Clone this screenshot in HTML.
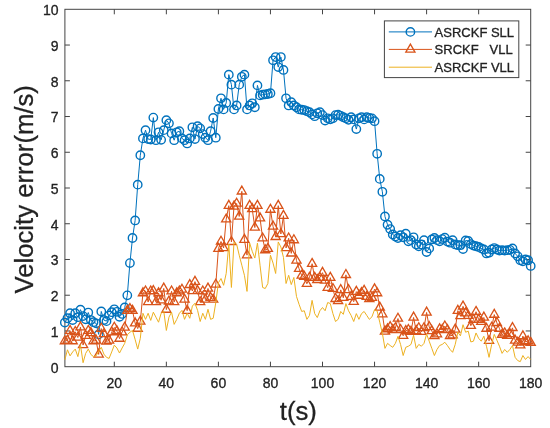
<!DOCTYPE html>
<html lang="en"><head><meta charset="utf-8"><title>Velocity error</title>
<style>html,body{margin:0;padding:0;background:#fff;}svg{display:block;}text{font-family:"Liberation Sans",Arial,Helvetica,sans-serif;fill:#222;stroke:#222;stroke-width:0.3px;}</style></head><body>
<svg width="550" height="428" viewBox="0 0 550 428">
<rect x="0" y="0" width="550" height="428" fill="#ffffff"/>
<g fill="none" stroke="#444" stroke-width="1.0">
<rect x="64.9" y="9.3" width="465.8" height="357.4"/>
<path d="M114.3 366.7v-5.0M114.3 9.3v5.0M166.35 366.7v-5.0M166.35 9.3v5.0M218.4 366.7v-5.0M218.4 9.3v5.0M270.45 366.7v-5.0M270.45 9.3v5.0M322.5 366.7v-5.0M322.5 9.3v5.0M374.55 366.7v-5.0M374.55 9.3v5.0M426.6 366.7v-5.0M426.6 9.3v5.0M478.65 366.7v-5.0M478.65 9.3v5.0M64.9 330.96h5.0M530.7 330.96h-5.0M64.9 295.22h5.0M530.7 295.22h-5.0M64.9 259.48h5.0M530.7 259.48h-5.0M64.9 223.74h5.0M530.7 223.74h-5.0M64.9 188h5.0M530.7 188h-5.0M64.9 152.26h5.0M530.7 152.26h-5.0M64.9 116.52h5.0M530.7 116.52h-5.0M64.9 80.78h5.0M530.7 80.78h-5.0M64.9 45.04h5.0M530.7 45.04h-5.0"/>
</g>
<g font-size="14" text-anchor="middle">
<text x="114.3" y="388.3">20</text>
<text x="166.35" y="388.3">40</text>
<text x="218.4" y="388.3">60</text>
<text x="270.45" y="388.3">80</text>
<text x="322.5" y="388.3">100</text>
<text x="374.55" y="388.3">120</text>
<text x="426.6" y="388.3">140</text>
<text x="478.65" y="388.3">160</text>
<text x="530.7" y="388.3">180</text>
</g>
<g font-size="14" text-anchor="end">
<text x="58.5" y="372.5">0</text>
<text x="58.5" y="336.76">1</text>
<text x="58.5" y="301.02">2</text>
<text x="58.5" y="265.28">3</text>
<text x="58.5" y="229.54">4</text>
<text x="58.5" y="193.8">5</text>
<text x="58.5" y="158.06">6</text>
<text x="58.5" y="122.32">7</text>
<text x="58.5" y="86.58">8</text>
<text x="58.5" y="50.84">9</text>
<text x="58.5" y="15.1">10</text>
</g>
<text x="298.3" y="419.5" font-size="25.7" text-anchor="middle">t(s)</text>
<text transform="translate(33 189.3) rotate(-90)" font-size="25.7" text-anchor="middle">Velocity error(m/s)</text>
<g fill="none" stroke-linejoin="round">
<polyline points="64.85,322.57 67.45,318.27 70.05,313.25 72.66,320.06 75.26,313.25 77.86,317.2 80.46,309.67 83.07,316.12 85.67,319.35 88.27,312.54 90.88,320.06 93.48,322.21 96.08,323.29 98.68,334.39 101.28,311.46 103.89,320.06 106.49,321.14 109.09,315.4 111.69,312.18 114.3,309.31 116.9,311.82 119.5,316.84 122.1,313.97 124.71,307.52 127.31,295.34 129.91,263.09 132.51,238.01 135.12,220.46 137.72,184.63 140.32,155.24 142.93,138.4 145.53,130.16 148.13,139.12 150.73,139.48 153.33,117.62 155.94,140.2 158.54,132.31 161.14,139.84 163.75,130.16 166.35,120.13 168.95,123.36 171.55,133.39 174.16,140.2 176.76,132.31 179.36,131.24 181.96,138.4 184.56,140.2 187.17,143.42 189.77,138.4 192.37,127.3 194.97,139.12 197.58,126.22 200.18,128.37 202.78,134.11 205.38,137.69 207.99,140.2 210.59,131.24 213.19,117.98 215.79,137.69 218.4,109.02 221,98.28 223.6,109.38 226.2,102.93 228.81,74.63 231.41,84.66 234.01,109.38 236.62,105.44 239.22,84.66 241.82,76.78 244.42,74.63 247.03,109.38 249.63,105.44 252.23,103.29 254.83,107.23 257.44,85.38 260.04,95.41 262.64,94.69 265.24,94.33 267.85,93.98 270.45,93.26 273.05,60.3 275.65,57.07 278.25,67.1 280.86,57.07 283.46,69.97 286.06,98.28 288.66,105.44 291.27,102.22 293.87,105.44 296.47,107.23 299.07,109.38 301.68,109.74 304.28,110.1 306.88,111.17 309.49,112.25 312.09,114.4 314.69,116.19 317.29,113.32 319.89,112.25 322.5,115.12 325.1,120.49 327.7,118.34 330.3,119.41 332.91,118.34 335.51,115.12 338.11,114.76 340.72,115.83 343.32,117.26 345.92,118.34 348.52,119.77 351.12,117.26 353.73,119.41 356.33,129.09 358.93,118.34 361.53,117.26 364.14,119.41 366.74,117.26 369.34,117.98 371.95,118.34 374.55,121.21 377.15,153.81 379.75,178.89 382.36,191.79 384.96,216.51 387.56,224.75 390.16,229.05 392.76,234.43 395.37,236.58 397.97,238.01 400.57,235.15 403.17,237.3 405.78,233.71 408.38,241.24 410.98,240.16 413.59,237.3 416.19,244.46 418.79,246.25 421.39,244.46 424,240.16 426.6,251.99 429.2,248.4 431.8,239.45 434.4,238.01 437.01,240.16 439.61,241.24 442.21,239.09 444.82,237.65 447.42,241.59 450.02,242.67 452.62,240.16 455.23,244.46 457.83,245.18 460.43,245.18 463.03,249.12 465.63,240.52 468.24,240.88 470.84,244.1 473.44,245.54 476.04,246.25 478.65,246.97 481.25,248.4 483.85,249.48 486.46,253.42 489.06,252.7 491.66,249.48 494.26,248.04 496.87,249.48 499.47,250.55 502.07,250.19 504.67,250.55 507.27,250.19 509.88,249.84 512.48,248.4 515.08,253.42 517.68,256.29 520.29,260.23 522.89,261.3 525.49,259.51 528.1,260.23 530.7,265.96" stroke="#0072BD" stroke-width="1.0"/>
<g stroke="#0072BD" stroke-width="1.4">
<circle cx="64.85" cy="322.57" r="4.2"/>
<circle cx="67.45" cy="318.27" r="4.2"/>
<circle cx="70.05" cy="313.25" r="4.2"/>
<circle cx="72.66" cy="320.06" r="4.2"/>
<circle cx="75.26" cy="313.25" r="4.2"/>
<circle cx="77.86" cy="317.2" r="4.2"/>
<circle cx="80.46" cy="309.67" r="4.2"/>
<circle cx="83.07" cy="316.12" r="4.2"/>
<circle cx="85.67" cy="319.35" r="4.2"/>
<circle cx="88.27" cy="312.54" r="4.2"/>
<circle cx="90.88" cy="320.06" r="4.2"/>
<circle cx="93.48" cy="322.21" r="4.2"/>
<circle cx="96.08" cy="323.29" r="4.2"/>
<circle cx="98.68" cy="334.39" r="4.2"/>
<circle cx="101.28" cy="311.46" r="4.2"/>
<circle cx="103.89" cy="320.06" r="4.2"/>
<circle cx="106.49" cy="321.14" r="4.2"/>
<circle cx="109.09" cy="315.4" r="4.2"/>
<circle cx="111.69" cy="312.18" r="4.2"/>
<circle cx="114.3" cy="309.31" r="4.2"/>
<circle cx="116.9" cy="311.82" r="4.2"/>
<circle cx="119.5" cy="316.84" r="4.2"/>
<circle cx="122.1" cy="313.97" r="4.2"/>
<circle cx="124.71" cy="307.52" r="4.2"/>
<circle cx="127.31" cy="295.34" r="4.2"/>
<circle cx="129.91" cy="263.09" r="4.2"/>
<circle cx="132.51" cy="238.01" r="4.2"/>
<circle cx="135.12" cy="220.46" r="4.2"/>
<circle cx="137.72" cy="184.63" r="4.2"/>
<circle cx="140.32" cy="155.24" r="4.2"/>
<circle cx="142.93" cy="138.4" r="4.2"/>
<circle cx="145.53" cy="130.16" r="4.2"/>
<circle cx="148.13" cy="139.12" r="4.2"/>
<circle cx="150.73" cy="139.48" r="4.2"/>
<circle cx="153.33" cy="117.62" r="4.2"/>
<circle cx="155.94" cy="140.2" r="4.2"/>
<circle cx="158.54" cy="132.31" r="4.2"/>
<circle cx="161.14" cy="139.84" r="4.2"/>
<circle cx="163.75" cy="130.16" r="4.2"/>
<circle cx="166.35" cy="120.13" r="4.2"/>
<circle cx="168.95" cy="123.36" r="4.2"/>
<circle cx="171.55" cy="133.39" r="4.2"/>
<circle cx="174.16" cy="140.2" r="4.2"/>
<circle cx="176.76" cy="132.31" r="4.2"/>
<circle cx="179.36" cy="131.24" r="4.2"/>
<circle cx="181.96" cy="138.4" r="4.2"/>
<circle cx="184.56" cy="140.2" r="4.2"/>
<circle cx="187.17" cy="143.42" r="4.2"/>
<circle cx="189.77" cy="138.4" r="4.2"/>
<circle cx="192.37" cy="127.3" r="4.2"/>
<circle cx="194.97" cy="139.12" r="4.2"/>
<circle cx="197.58" cy="126.22" r="4.2"/>
<circle cx="200.18" cy="128.37" r="4.2"/>
<circle cx="202.78" cy="134.11" r="4.2"/>
<circle cx="205.38" cy="137.69" r="4.2"/>
<circle cx="207.99" cy="140.2" r="4.2"/>
<circle cx="210.59" cy="131.24" r="4.2"/>
<circle cx="213.19" cy="117.98" r="4.2"/>
<circle cx="215.79" cy="137.69" r="4.2"/>
<circle cx="218.4" cy="109.02" r="4.2"/>
<circle cx="221" cy="98.28" r="4.2"/>
<circle cx="223.6" cy="109.38" r="4.2"/>
<circle cx="226.2" cy="102.93" r="4.2"/>
<circle cx="228.81" cy="74.63" r="4.2"/>
<circle cx="231.41" cy="84.66" r="4.2"/>
<circle cx="234.01" cy="109.38" r="4.2"/>
<circle cx="236.62" cy="105.44" r="4.2"/>
<circle cx="239.22" cy="84.66" r="4.2"/>
<circle cx="241.82" cy="76.78" r="4.2"/>
<circle cx="244.42" cy="74.63" r="4.2"/>
<circle cx="247.03" cy="109.38" r="4.2"/>
<circle cx="249.63" cy="105.44" r="4.2"/>
<circle cx="252.23" cy="103.29" r="4.2"/>
<circle cx="254.83" cy="107.23" r="4.2"/>
<circle cx="257.44" cy="85.38" r="4.2"/>
<circle cx="260.04" cy="95.41" r="4.2"/>
<circle cx="262.64" cy="94.69" r="4.2"/>
<circle cx="265.24" cy="94.33" r="4.2"/>
<circle cx="267.85" cy="93.98" r="4.2"/>
<circle cx="270.45" cy="93.26" r="4.2"/>
<circle cx="273.05" cy="60.3" r="4.2"/>
<circle cx="275.65" cy="57.07" r="4.2"/>
<circle cx="278.25" cy="67.1" r="4.2"/>
<circle cx="280.86" cy="57.07" r="4.2"/>
<circle cx="283.46" cy="69.97" r="4.2"/>
<circle cx="286.06" cy="98.28" r="4.2"/>
<circle cx="288.66" cy="105.44" r="4.2"/>
<circle cx="291.27" cy="102.22" r="4.2"/>
<circle cx="293.87" cy="105.44" r="4.2"/>
<circle cx="296.47" cy="107.23" r="4.2"/>
<circle cx="299.07" cy="109.38" r="4.2"/>
<circle cx="301.68" cy="109.74" r="4.2"/>
<circle cx="304.28" cy="110.1" r="4.2"/>
<circle cx="306.88" cy="111.17" r="4.2"/>
<circle cx="309.49" cy="112.25" r="4.2"/>
<circle cx="312.09" cy="114.4" r="4.2"/>
<circle cx="314.69" cy="116.19" r="4.2"/>
<circle cx="317.29" cy="113.32" r="4.2"/>
<circle cx="319.89" cy="112.25" r="4.2"/>
<circle cx="322.5" cy="115.12" r="4.2"/>
<circle cx="325.1" cy="120.49" r="4.2"/>
<circle cx="327.7" cy="118.34" r="4.2"/>
<circle cx="330.3" cy="119.41" r="4.2"/>
<circle cx="332.91" cy="118.34" r="4.2"/>
<circle cx="335.51" cy="115.12" r="4.2"/>
<circle cx="338.11" cy="114.76" r="4.2"/>
<circle cx="340.72" cy="115.83" r="4.2"/>
<circle cx="343.32" cy="117.26" r="4.2"/>
<circle cx="345.92" cy="118.34" r="4.2"/>
<circle cx="348.52" cy="119.77" r="4.2"/>
<circle cx="351.12" cy="117.26" r="4.2"/>
<circle cx="353.73" cy="119.41" r="4.2"/>
<circle cx="356.33" cy="129.09" r="4.2"/>
<circle cx="358.93" cy="118.34" r="4.2"/>
<circle cx="361.53" cy="117.26" r="4.2"/>
<circle cx="364.14" cy="119.41" r="4.2"/>
<circle cx="366.74" cy="117.26" r="4.2"/>
<circle cx="369.34" cy="117.98" r="4.2"/>
<circle cx="371.95" cy="118.34" r="4.2"/>
<circle cx="374.55" cy="121.21" r="4.2"/>
<circle cx="377.15" cy="153.81" r="4.2"/>
<circle cx="379.75" cy="178.89" r="4.2"/>
<circle cx="382.36" cy="191.79" r="4.2"/>
<circle cx="384.96" cy="216.51" r="4.2"/>
<circle cx="387.56" cy="224.75" r="4.2"/>
<circle cx="390.16" cy="229.05" r="4.2"/>
<circle cx="392.76" cy="234.43" r="4.2"/>
<circle cx="395.37" cy="236.58" r="4.2"/>
<circle cx="397.97" cy="238.01" r="4.2"/>
<circle cx="400.57" cy="235.15" r="4.2"/>
<circle cx="403.17" cy="237.3" r="4.2"/>
<circle cx="405.78" cy="233.71" r="4.2"/>
<circle cx="408.38" cy="241.24" r="4.2"/>
<circle cx="410.98" cy="240.16" r="4.2"/>
<circle cx="413.59" cy="237.3" r="4.2"/>
<circle cx="416.19" cy="244.46" r="4.2"/>
<circle cx="418.79" cy="246.25" r="4.2"/>
<circle cx="421.39" cy="244.46" r="4.2"/>
<circle cx="424" cy="240.16" r="4.2"/>
<circle cx="426.6" cy="251.99" r="4.2"/>
<circle cx="429.2" cy="248.4" r="4.2"/>
<circle cx="431.8" cy="239.45" r="4.2"/>
<circle cx="434.4" cy="238.01" r="4.2"/>
<circle cx="437.01" cy="240.16" r="4.2"/>
<circle cx="439.61" cy="241.24" r="4.2"/>
<circle cx="442.21" cy="239.09" r="4.2"/>
<circle cx="444.82" cy="237.65" r="4.2"/>
<circle cx="447.42" cy="241.59" r="4.2"/>
<circle cx="450.02" cy="242.67" r="4.2"/>
<circle cx="452.62" cy="240.16" r="4.2"/>
<circle cx="455.23" cy="244.46" r="4.2"/>
<circle cx="457.83" cy="245.18" r="4.2"/>
<circle cx="460.43" cy="245.18" r="4.2"/>
<circle cx="463.03" cy="249.12" r="4.2"/>
<circle cx="465.63" cy="240.52" r="4.2"/>
<circle cx="468.24" cy="240.88" r="4.2"/>
<circle cx="470.84" cy="244.1" r="4.2"/>
<circle cx="473.44" cy="245.54" r="4.2"/>
<circle cx="476.04" cy="246.25" r="4.2"/>
<circle cx="478.65" cy="246.97" r="4.2"/>
<circle cx="481.25" cy="248.4" r="4.2"/>
<circle cx="483.85" cy="249.48" r="4.2"/>
<circle cx="486.46" cy="253.42" r="4.2"/>
<circle cx="489.06" cy="252.7" r="4.2"/>
<circle cx="491.66" cy="249.48" r="4.2"/>
<circle cx="494.26" cy="248.04" r="4.2"/>
<circle cx="496.87" cy="249.48" r="4.2"/>
<circle cx="499.47" cy="250.55" r="4.2"/>
<circle cx="502.07" cy="250.19" r="4.2"/>
<circle cx="504.67" cy="250.55" r="4.2"/>
<circle cx="507.27" cy="250.19" r="4.2"/>
<circle cx="509.88" cy="249.84" r="4.2"/>
<circle cx="512.48" cy="248.4" r="4.2"/>
<circle cx="515.08" cy="253.42" r="4.2"/>
<circle cx="517.68" cy="256.29" r="4.2"/>
<circle cx="520.29" cy="260.23" r="4.2"/>
<circle cx="522.89" cy="261.3" r="4.2"/>
<circle cx="525.49" cy="259.51" r="4.2"/>
<circle cx="528.1" cy="260.23" r="4.2"/>
<circle cx="530.7" cy="265.96" r="4.2"/>
</g>
<polyline points="64.85,341.12 67.45,340.4 70.05,330.73 72.66,341.12 75.26,331.8 77.86,337.54 80.46,327.15 83.07,345.06 85.67,335.74 88.27,330.73 90.88,332.88 93.48,341.12 96.08,340.4 98.68,354.38 101.28,328.58 103.89,333.95 106.49,341.48 109.09,340.4 111.69,332.16 114.3,327.5 116.9,331.09 119.5,338.61 122.1,332.16 124.71,327.5 127.31,310.66 129.91,308.87 132.51,310.66 135.12,323.2 137.72,328.58 140.32,321.41 142.93,293.11 145.53,291.32 148.13,302.06 150.73,291.32 153.33,290.96 155.94,302.06 158.54,293.11 161.14,300.27 163.75,288.45 166.35,309.59 168.95,301.35 171.55,291.32 174.16,302.06 176.76,293.11 179.36,291.32 181.96,289.52 184.56,299.56 187.17,310.66 189.77,284.87 192.37,290.96 194.97,281.64 197.58,290.96 200.18,302.06 202.78,291.32 205.38,299.56 207.99,288.45 210.59,297.76 213.19,299.56 215.79,284.51 218.4,248.68 221,241.51 223.6,247.96 226.2,219.3 228.81,205.68 231.41,241.87 234.01,206.4 236.62,203.53 239.22,216.43 241.82,191.35 244.42,239.72 247.03,255.13 249.63,205.68 252.23,208.91 254.83,227.54 257.44,205.68 260.04,218.22 262.64,238.29 265.24,250.11 267.85,248.68 270.45,209.62 273.05,226.46 275.65,236.85 278.25,205.68 280.86,233.99 283.46,215.71 286.06,247.96 288.66,238.29 291.27,253.34 293.87,240.08 296.47,260.5 299.07,268.74 301.68,275.55 304.28,276.62 306.88,283.79 309.49,277.7 312.09,263.73 314.69,277.7 317.29,279.85 319.89,277.7 322.5,272.68 325.1,280.57 327.7,287.73 330.3,277.7 332.91,288.81 335.51,298.84 338.11,300.99 340.72,289.88 343.32,297.76 345.92,274.83 348.52,289.88 351.12,296.69 353.73,301.71 356.33,291.67 358.93,295.61 361.53,292.75 364.14,290.6 366.74,296.69 369.34,298.84 371.95,297.76 374.55,289.17 377.15,293.11 379.75,307.44 382.36,314.25 384.96,331.44 387.56,329.12 390.16,326.97 392.76,329.83 395.37,328.04 397.97,318.55 400.57,329.83 403.17,335.74 405.78,330.91 408.38,329.83 410.98,331.62 413.59,317.47 416.19,330.91 418.79,328.04 421.39,331.8 424,328.04 426.6,312.45 429.2,326.97 431.8,330.91 434.4,335.92 437.01,334.13 439.61,329.12 442.21,329.83 444.82,326.25 447.42,329.83 450.02,335.92 452.62,335.21 455.23,329.47 457.83,310.66 460.43,316.04 463.03,306.36 465.63,313.17 468.24,315.68 470.84,325.71 473.44,319.62 476.04,311.74 478.65,319.62 481.25,321.77 483.85,317.47 486.46,328.58 489.06,340.76 491.66,327.5 494.26,314.6 496.87,322.85 499.47,328.58 502.07,334.67 504.67,333.24 507.27,335.74 509.88,333.95 512.48,327.86 515.08,340.4 517.68,342.55 520.29,345.24 522.89,336.1 525.49,341.84 528.1,341.12 530.7,342.73" stroke="#D95319" stroke-width="1.0"/>
<path d="M64.85 335.82L69.44 343.77H60.26ZM67.45 335.1L72.04 343.05H62.86ZM70.05 325.43L74.64 333.38H65.46ZM72.66 335.82L77.25 343.77H68.07ZM75.26 326.5L79.85 334.45H70.67ZM77.86 332.24L82.45 340.19H73.27ZM80.46 321.85L85.05 329.8H75.87ZM83.07 339.76L87.66 347.71H78.48ZM85.67 330.44L90.26 338.39H81.08ZM88.27 325.43L92.86 333.38H83.68ZM90.88 327.58L95.47 335.53H86.28ZM93.48 335.82L98.07 343.77H88.89ZM96.08 335.1L100.67 343.05H91.49ZM98.68 349.08L103.27 357.03H94.09ZM101.28 323.28L105.88 331.23H96.69ZM103.89 328.65L108.48 336.6H99.3ZM106.49 336.18L111.08 344.13H101.9ZM109.09 335.1L113.68 343.05H104.5ZM111.69 326.86L116.28 334.81H107.1ZM114.3 322.2L118.89 330.15H109.71ZM116.9 325.79L121.49 333.74H112.31ZM119.5 333.31L124.09 341.26H114.91ZM122.1 326.86L126.69 334.81H117.51ZM124.71 322.2L129.3 330.15H120.12ZM127.31 305.36L131.9 313.31H122.72ZM129.91 303.57L134.5 311.52H125.32ZM132.51 305.36L137.1 313.31H127.92ZM135.12 317.9L139.71 325.85H130.53ZM137.72 323.28L142.31 331.23H133.13ZM140.32 316.11L144.91 324.06H135.73ZM142.93 287.81L147.52 295.76H138.34ZM145.53 286.02L150.12 293.97H140.94ZM148.13 296.76L152.72 304.71H143.54ZM150.73 286.02L155.32 293.97H146.14ZM153.33 285.66L157.92 293.61H148.74ZM155.94 296.76L160.53 304.71H151.35ZM158.54 287.81L163.13 295.76H153.95ZM161.14 294.97L165.73 302.92H156.55ZM163.75 283.15L168.34 291.1H159.16ZM166.35 304.29L170.94 312.24H161.76ZM168.95 296.05L173.54 304H164.36ZM171.55 286.02L176.14 293.97H166.96ZM174.16 296.76L178.75 304.71H169.56ZM176.76 287.81L181.35 295.76H172.17ZM179.36 286.02L183.95 293.97H174.77ZM181.96 284.22L186.55 292.17H177.37ZM184.56 294.26L189.16 302.21H179.97ZM187.17 305.36L191.76 313.31H182.58ZM189.77 279.57L194.36 287.52H185.18ZM192.37 285.66L196.96 293.61H187.78ZM194.97 276.34L199.56 284.29H190.38ZM197.58 285.66L202.17 293.61H192.99ZM200.18 296.76L204.77 304.71H195.59ZM202.78 286.02L207.37 293.97H198.19ZM205.38 294.26L209.97 302.21H200.79ZM207.99 283.15L212.58 291.1H203.4ZM210.59 292.46L215.18 300.41H206ZM213.19 294.26L217.78 302.21H208.6ZM215.79 279.21L220.38 287.16H211.2ZM218.4 243.38L222.99 251.33H213.81ZM221 236.21L225.59 244.16H216.41ZM223.6 242.66L228.19 250.61H219.01ZM226.2 214L230.79 221.95H221.61ZM228.81 200.38L233.4 208.33H224.22ZM231.41 236.57L236 244.52H226.82ZM234.01 201.1L238.6 209.05H229.42ZM236.62 198.23L241.21 206.18H232.03ZM239.22 211.13L243.81 219.08H234.63ZM241.82 186.05L246.41 194H237.23ZM244.42 234.42L249.01 242.37H239.83ZM247.03 249.83L251.62 257.78H242.44ZM249.63 200.38L254.22 208.33H245.04ZM252.23 203.61L256.82 211.56H247.64ZM254.83 222.24L259.42 230.19H250.24ZM257.44 200.38L262.02 208.33H252.84ZM260.04 212.92L264.63 220.87H255.45ZM262.64 232.99L267.23 240.94H258.05ZM265.24 244.81L269.83 252.76H260.65ZM267.85 243.38L272.44 251.33H263.26ZM270.45 204.32L275.04 212.27H265.86ZM273.05 221.16L277.64 229.11H268.46ZM275.65 231.55L280.24 239.5H271.06ZM278.25 200.38L282.84 208.33H273.67ZM280.86 228.69L285.45 236.64H276.27ZM283.46 210.41L288.05 218.36H278.87ZM286.06 242.66L290.65 250.61H281.47ZM288.66 232.99L293.25 240.94H284.07ZM291.27 248.04L295.86 255.99H286.68ZM293.87 234.78L298.46 242.73H289.28ZM296.47 255.2L301.06 263.15H291.88ZM299.07 263.44L303.66 271.39H294.49ZM301.68 270.25L306.27 278.2H297.09ZM304.28 271.32L308.87 279.27H299.69ZM306.88 278.49L311.47 286.44H302.29ZM309.49 272.4L314.07 280.35H304.9ZM312.09 258.43L316.68 266.38H307.5ZM314.69 272.4L319.28 280.35H310.1ZM317.29 274.55L321.88 282.5H312.7ZM319.89 272.4L324.48 280.35H315.31ZM322.5 267.38L327.09 275.33H317.91ZM325.1 275.27L329.69 283.22H320.51ZM327.7 282.43L332.29 290.38H323.11ZM330.3 272.4L334.89 280.35H325.71ZM332.91 283.51L337.5 291.46H328.32ZM335.51 293.54L340.1 301.49H330.92ZM338.11 295.69L342.7 303.64H333.52ZM340.72 284.58L345.31 292.53H336.13ZM343.32 292.46L347.91 300.41H338.73ZM345.92 269.53L350.51 277.48H341.33ZM348.52 284.58L353.11 292.53H343.93ZM351.12 291.39L355.71 299.34H346.54ZM353.73 296.41L358.32 304.36H349.14ZM356.33 286.37L360.92 294.32H351.74ZM358.93 290.31L363.52 298.26H354.34ZM361.53 287.45L366.12 295.4H356.94ZM364.14 285.3L368.73 293.25H359.55ZM366.74 291.39L371.33 299.34H362.15ZM369.34 293.54L373.93 301.49H364.75ZM371.95 292.46L376.54 300.41H367.36ZM374.55 283.87L379.14 291.82H369.96ZM377.15 287.81L381.74 295.76H372.56ZM379.75 302.14L384.34 310.09H375.16ZM382.36 308.95L386.94 316.9H377.77ZM384.96 326.14L389.55 334.09H380.37ZM387.56 323.82L392.15 331.77H382.97ZM390.16 321.67L394.75 329.62H385.57ZM392.76 324.53L397.35 332.48H388.18ZM395.37 322.74L399.96 330.69H390.78ZM397.97 313.25L402.56 321.2H393.38ZM400.57 324.53L405.16 332.48H395.98ZM403.17 330.44L407.76 338.39H398.58ZM405.78 325.61L410.37 333.56H401.19ZM408.38 324.53L412.97 332.48H403.79ZM410.98 326.32L415.57 334.27H406.39ZM413.59 312.17L418.18 320.12H409ZM416.19 325.61L420.78 333.56H411.6ZM418.79 322.74L423.38 330.69H414.2ZM421.39 326.5L425.98 334.45H416.8ZM424 322.74L428.58 330.69H419.41ZM426.6 307.15L431.19 315.1H422.01ZM429.2 321.67L433.79 329.62H424.61ZM431.8 325.61L436.39 333.56H427.21ZM434.4 330.62L438.99 338.57H429.81ZM437.01 328.83L441.6 336.78H432.42ZM439.61 323.82L444.2 331.77H435.02ZM442.21 324.53L446.8 332.48H437.62ZM444.82 320.95L449.41 328.9H440.23ZM447.42 324.53L452.01 332.48H442.83ZM450.02 330.62L454.61 338.57H445.43ZM452.62 329.91L457.21 337.86H448.03ZM455.23 324.17L459.81 332.12H450.64ZM457.83 305.36L462.42 313.31H453.24ZM460.43 310.74L465.02 318.69H455.84ZM463.03 301.06L467.62 309.01H458.44ZM465.63 307.87L470.22 315.82H461.05ZM468.24 310.38L472.83 318.33H463.65ZM470.84 320.41L475.43 328.36H466.25ZM473.44 314.32L478.03 322.27H468.85ZM476.04 306.44L480.63 314.39H471.45ZM478.65 314.32L483.24 322.27H474.06ZM481.25 316.47L485.84 324.42H476.66ZM483.85 312.17L488.44 320.12H479.26ZM486.46 323.28L491.05 331.23H481.87ZM489.06 335.46L493.65 343.41H484.47ZM491.66 322.2L496.25 330.15H487.07ZM494.26 309.3L498.85 317.25H489.67ZM496.87 317.55L501.45 325.5H492.28ZM499.47 323.28L504.06 331.23H494.88ZM502.07 329.37L506.66 337.32H497.48ZM504.67 327.94L509.26 335.89H500.08ZM507.27 330.44L511.86 338.39H502.69ZM509.88 328.65L514.47 336.6H505.29ZM512.48 322.56L517.07 330.51H507.89ZM515.08 335.1L519.67 343.05H510.49ZM517.68 337.25L522.27 345.2H513.09ZM520.29 339.94L524.88 347.89H515.7ZM522.89 330.8L527.48 338.75H518.3ZM525.49 336.54L530.08 344.49H520.9ZM528.1 335.82L532.69 343.77H523.5ZM530.7 337.43L535.29 345.38H526.11Z" stroke="#D95319" stroke-width="1.3" stroke-linejoin="miter"/>
<polyline points="64.85,359.83 67.45,349.8 70.05,355.89 72.66,351.95 75.26,349.08 77.86,356.61 80.46,344.79 83.07,362.7 85.67,353.38 88.27,349.08 90.88,354.46 93.48,356.61 96.08,355.89 98.68,351.23 101.28,347.29 103.89,354.1 106.49,357.33 109.09,358.4 111.69,351.95 114.3,345.14 116.9,348.01 119.5,353.03 122.1,348.01 124.71,343.35 127.31,334.75 129.91,332.24 132.51,330.45 135.12,339.41 137.72,349.08 140.32,338.34 142.93,313.25 145.53,319.35 148.13,313.25 150.73,320.42 153.33,312.18 155.94,317.2 158.54,322.21 161.14,313.25 163.75,311.11 166.35,330.45 168.95,317.2 171.55,312.18 174.16,324.36 176.76,319.35 179.36,313.25 181.96,310.39 184.56,319.35 187.17,313.25 189.77,318.27 192.37,306.09 194.97,303.22 197.58,310.39 200.18,321.5 202.78,313.25 205.38,319.35 207.99,309.31 210.59,319.35 213.19,318.27 215.79,302.51 218.4,282.8 221,278.5 223.6,285.31 226.2,273.48 228.81,244.1 231.41,287.46 234.01,241.95 236.62,244.1 239.22,255.21 241.82,265.24 244.42,275.28 247.03,291.4 249.63,243.03 252.23,251.27 254.83,258.08 257.44,243.03 260.04,265.24 262.64,287.46 265.24,288.53 267.85,283.52 270.45,255.21 273.05,263.09 275.65,273.48 278.25,241.95 280.86,246.97 283.46,257.36 286.06,283.52 288.66,275.28 291.27,284.59 293.87,277.43 296.47,296.41 299.07,304.3 301.68,311.46 304.28,310.75 306.88,319.35 309.49,315.4 312.09,300.36 314.69,313.61 317.29,317.55 319.89,310.75 322.5,307.52 325.1,310.75 327.7,302.51 330.3,303.58 332.91,313.61 335.51,321.5 338.11,319.35 340.72,311.46 343.32,314.33 345.92,303.58 348.52,310.75 351.12,315.4 353.73,321.5 356.33,313.61 358.93,319.35 361.53,313.61 364.14,311.46 366.74,315.4 369.34,319.35 371.95,316.84 374.55,309.67 377.15,311.11 379.75,322.21 382.36,333.32 384.96,348.37 387.56,343.35 390.16,345.5 392.76,347.29 395.37,343.35 397.97,336.37 400.57,344.43 403.17,355.53 405.78,347.29 408.38,346.22 410.98,344.43 413.59,335.29 416.19,348.37 418.79,344.43 421.39,346.22 424,343.35 426.6,334.04 429.2,341.2 431.8,348.37 434.4,355.53 437.01,349.44 439.61,345.5 442.21,344.43 444.82,342.28 447.42,345.5 450.02,349.44 452.62,352.31 455.23,344.43 457.83,332.24 460.43,335.83 463.03,324.72 465.63,332.24 468.24,331.17 470.84,341.92 473.44,341.2 476.04,332.96 478.65,338.34 481.25,341.2 483.85,336.19 486.46,346.22 489.06,357.33 491.66,344.43 494.26,334.39 496.87,340.13 499.47,346.22 502.07,353.38 504.67,349.44 507.27,352.31 509.88,349.44 512.48,345.5 515.08,357.33 517.68,360.55 520.29,361.63 522.89,355.53 525.49,359.48 528.1,356.61 530.7,359.48" stroke="#EDB120" stroke-width="1.0"/>
</g>
<rect x="384.4" y="20.9" width="134.4" height="56.7" fill="#fff" stroke="#444" stroke-width="1.0"/>
<g fill="none">
<path d="M388.8 31.9H432.0" stroke="#0072BD" stroke-width="1.0"/>
<circle cx="410.4" cy="31.9" r="4.2" stroke="#0072BD" stroke-width="1.4"/>
<path d="M388.8 49.4H432.0" stroke="#D95319" stroke-width="1.0"/>
<path d="M410.4 44.1L414.99 52.05H405.81Z" stroke="#D95319" stroke-width="1.3"/>
<path d="M388.8 67.2H432.0" stroke="#EDB120" stroke-width="1.0"/>
</g>
<g font-size="13" style="white-space:pre">
<text x="434.6" y="36.6">ASRCKF SLL</text>
<text x="434.6" y="54.1">SRCKF&#160;&#160; VLL</text>
<text x="434.6" y="71.7">ASRCKF VLL</text>
</g>
</svg></body></html>
